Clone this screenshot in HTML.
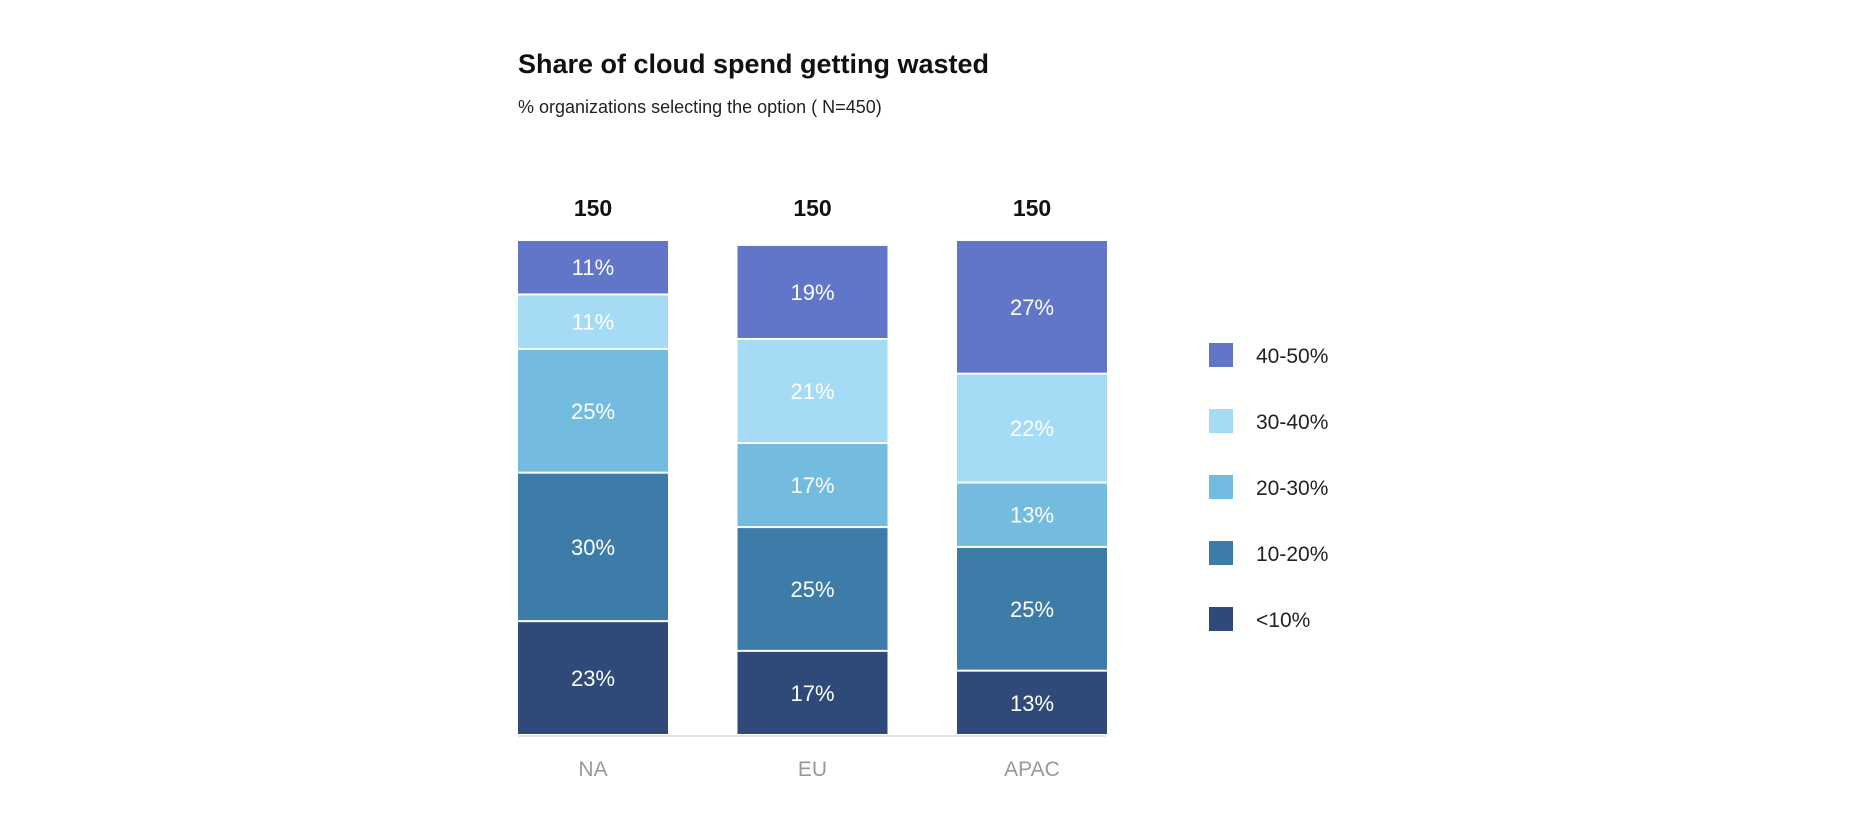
<!DOCTYPE html>
<html><head><meta charset="utf-8"><style>
body{margin:0;background:#fff;width:1868px;height:830px;overflow:hidden;font-family:"Liberation Sans",sans-serif}
</style></head><body>
<svg id="c" width="1868" height="830">
<text x="518" y="73" font-size="27" font-weight="bold" fill="#111">Share of cloud spend getting wasted</text>
<text x="518" y="113" font-size="18" fill="#222">% organizations selecting the option ( N=450)</text>
<line x1="518" y1="736" x2="1106" y2="736" stroke="#e3e3e3" stroke-width="2"/>
<g id="bars"></g><g id="legend"></g>
</svg>
<script>
const categories=["NA","EU","APAC"];
const totals=[150,150,150];
const seriesNames=["<10%","10-20%","20-30%","30-40%","40-50%"];
const lt10=[23,17,13];
const s10_20=[30,25,25];
const s20_30=[25,17,13];
const s30_40=[11,21,22];
const s40_50=[11,19,27];
const series=[lt10,s10_20,s20_30,s30_40,s40_50];
const colors=["#2f4a78","#3d7ca8","#74bbe0","#a6dbf5","#6175c9"];
const NS="http://www.w3.org/2000/svg";
const base=735, pxPer=4.95, barW=150;
const x=i=>518+i*219.5;
const y=v=>base-v*pxPer;
function mk(t,a,p){const e=document.createElementNS(NS,t);for(const k in a)e.setAttribute(k,a[k]);p.appendChild(e);return e;}
const g=document.getElementById('bars');
categories.forEach((c,i)=>{
  let cum=0;
  series.forEach((s,k)=>{
    const v=s[i];
    const r=mk('rect',{x:x(i),y:y(cum+v)+1,width:barW,height:v*pxPer-2,fill:colors[k]},g);
    
    
    const t=mk('text',{x:x(i)+barW/2,y:y(cum+v/2)+8,'text-anchor':'middle','font-size':22,fill:'#fff'},g);
    t.textContent=v+'%';
    
    
    cum+=v;
  });
  const tt=mk('text',{x:x(i)+barW/2,y:216,'text-anchor':'middle','font-size':23,'font-weight':'bold',fill:'#111'},g);
  tt.textContent=totals[i];
  
  
  const cl=mk('text',{x:x(i)+barW/2,y:776,'text-anchor':'middle','font-size':21,fill:'#999'},g);
  cl.textContent=c;
  
  
});
const lg=document.getElementById('legend');
for(let k=4;k>=0;k--){
  const row=4-k, cy=355+row*66;
  const r=mk('rect',{x:1209,y:cy-12,width:24,height:24,fill:colors[k]},lg);
  
  
  const t=mk('text',{x:1256,y:cy+8,'font-size':21,fill:'#222'},lg);
  t.textContent=seriesNames[k];
  
  
}
</script>
</body></html>
